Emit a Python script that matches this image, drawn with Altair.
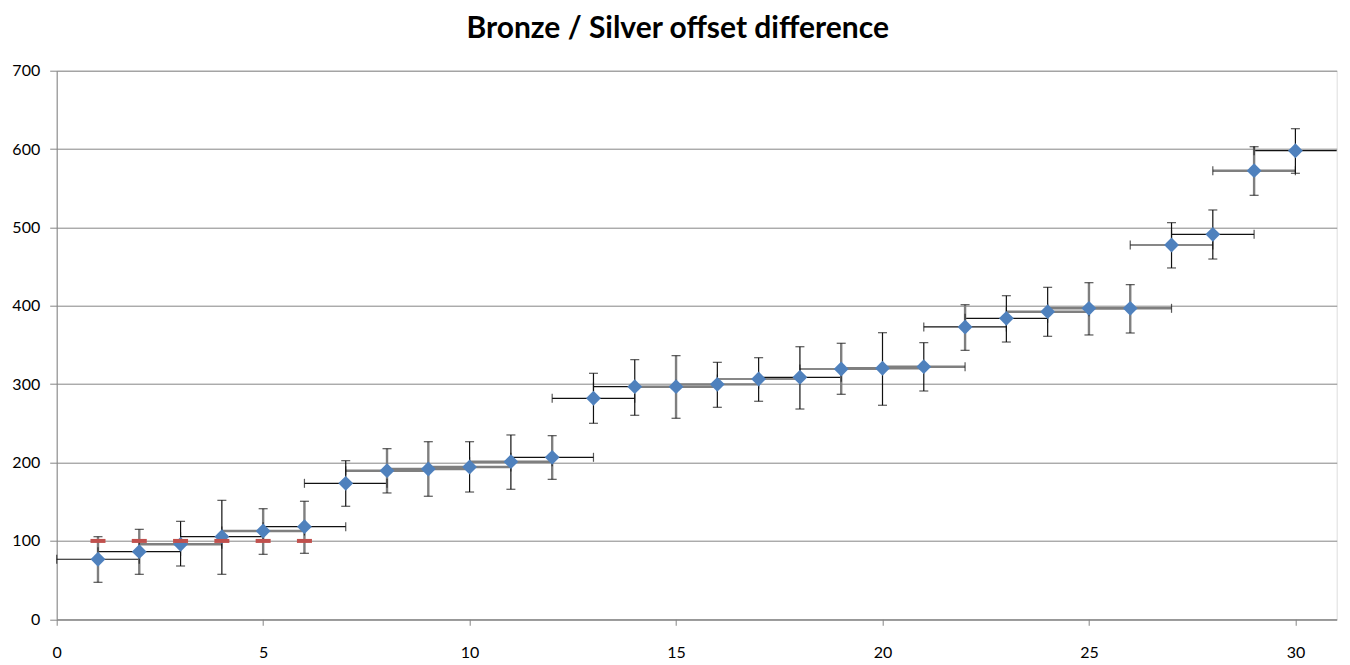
import altair as alt
import pandas as pd

# ---- data ----
xs = list(range(1, 31))
values = [76.6, 86.3, 95.7, 105.4, 112.7, 118.2,
          173.5, 189.6, 191.8, 194.3, 201.1, 206.7,
          282.0, 296.8, 296.8, 299.8, 306.6, 308.8, 319.4, 320.3, 322.3,
          373.0, 384.0, 392.5, 396.8, 396.8,
          477.6, 491.2,
          572.4, 597.9]
upper = [105.4, 114.8, 125.0, 151.8, 141.1, 150.6,
         202.4, 217.7, 226.6, 226.6, 235.2, 234.3,
         313.9, 331.3, 336.4, 327.9, 333.8, 347.8, 352.2, 365.7, 353.0,
         401.4, 412.9, 423.6, 429.5, 427.0,
         506.1, 522.3,
         603.0, 626.0]
lower = [47.2, 57.4, 68.0, 57.4, 82.9, 84.2,
         144.2, 161.2, 157.0, 162.4, 165.9, 178.6,
         250.1, 260.3, 256.5, 270.5, 278.2, 268.3, 287.1, 273.1, 291.3,
         343.2, 353.8, 361.1, 362.8, 365.3,
         448.3, 459.7,
         541.0, 569.1]
x_err = [1] * 30
# error-bar series membership (a = black bars, b = grey bars)
v_series = list("bbaabbabbaabaabaaabaabaabbaaba")
h_series = list("aababaabbbbaaabbaaabbaabbbaaba")
target_x = [1, 2, 3, 4, 5, 6]
target_y = [100, 100, 100, 100, 100, 100]

X_MAX = 31

df = pd.DataFrame({"x": xs, "v": values, "hi": upper, "lo": lower, "xe": x_err,
                   "vs": v_series, "hs": h_series})
df["xlo"] = df["x"] - df["xe"]
df["xhi"] = (df["x"] + df["xe"]).clip(upper=X_MAX)

vcaps = pd.concat([df[["x", "hi"]].rename(columns={"hi": "y"}),
                   df[["x", "lo"]].rename(columns={"lo": "y"})])
hcaps = pd.concat([pd.DataFrame({"x": df["x"] - df["xe"], "y": df["v"]}),
                   pd.DataFrame({"x": df["x"] + df["xe"], "y": df["v"]})])
hcaps = hcaps[hcaps["x"] < X_MAX]
tgt = pd.DataFrame({"x": target_x, "y": target_y})

FONT = "Lato"
xscale = alt.Scale(domain=[0, X_MAX], nice=False, zero=False)
yscale = alt.Scale(domain=[0, 700], nice=False)
col_scale = alt.Scale(domain=["a", "b"], range=["#111111", "#7f7f7f"])
w_scale = alt.Scale(domain=["a", "b"], range=[1.2, 2.4])

xaxis = alt.Axis(values=[0, 5, 10, 15, 20, 25, 30], grid=False, title=None,
                 domainColor="#868686", tickColor="#868686", tickSize=6,
                 labelFont=FONT, labelFontSize=16, labelColor="#000000",
                 labelPadding=19, labelFlush=False)
yaxis = alt.Axis(values=list(range(0, 701, 100)), grid=True, gridColor="#868686",
                 title=None, domainColor="#868686", tickColor="#868686", tickSize=7,
                 labelFont=FONT, labelFontSize=16, labelColor="#000000",
                 labelPadding=10, labelFlush=False)

base = alt.Chart(df)

h_stem = base.mark_rule().encode(
    x=alt.X("xlo:Q", scale=xscale, axis=xaxis),
    x2="xhi:Q",
    y=alt.Y("v:Q", scale=yscale, axis=yaxis),
    color=alt.Color("hs:N", scale=col_scale, legend=None),
    strokeWidth=alt.StrokeWidth("hs:N", scale=w_scale, legend=None),
)
v_stem = base.mark_rule().encode(
    x=alt.X("x:Q", scale=xscale),
    y=alt.Y("lo:Q", scale=yscale),
    y2="hi:Q",
    color=alt.Color("vs:N", scale=col_scale, legend=None),
    strokeWidth=alt.StrokeWidth("vs:N", scale=w_scale, legend=None),
)
v_cap = alt.Chart(vcaps).mark_tick(orient="horizontal", size=9, thickness=1.2,
                                   color="#111111").encode(
    x=alt.X("x:Q", scale=xscale), y=alt.Y("y:Q", scale=yscale))
h_cap = alt.Chart(hcaps).mark_tick(orient="vertical", size=9, thickness=1.2,
                                   color="#111111").encode(
    x=alt.X("x:Q", scale=xscale), y=alt.Y("y:Q", scale=yscale))
points = base.mark_point(shape="diamond", filled=True, size=220, opacity=1,
                         color="#4F81BD").encode(
    x=alt.X("x:Q", scale=xscale), y=alt.Y("v:Q", scale=yscale))
targets = alt.Chart(tgt).mark_tick(orient="horizontal", size=15, thickness=4,
                                   opacity=1, color="#C0504D").encode(
    x=alt.X("x:Q", scale=xscale), y=alt.Y("y:Q", scale=yscale))

chart = alt.layer(h_stem, v_stem, v_cap, h_cap, points, targets).properties(
    width=1280, height=548.6,
    padding={"left": 48.7, "top": 62.7, "right": 5, "bottom": 40},
    autosize=alt.AutoSizeParams(type="none"),
    title=alt.TitleParams("Bronze / Silver offset difference", font=FONT,
                          fontSize=30, fontWeight="bold", color="#000000",
                          anchor="middle", dx=-19, offset=19),
).configure_view(stroke=None).configure(background="#ffffff")

chart.save("out.html", embed_options={"renderer": "svg", "actions": False})
